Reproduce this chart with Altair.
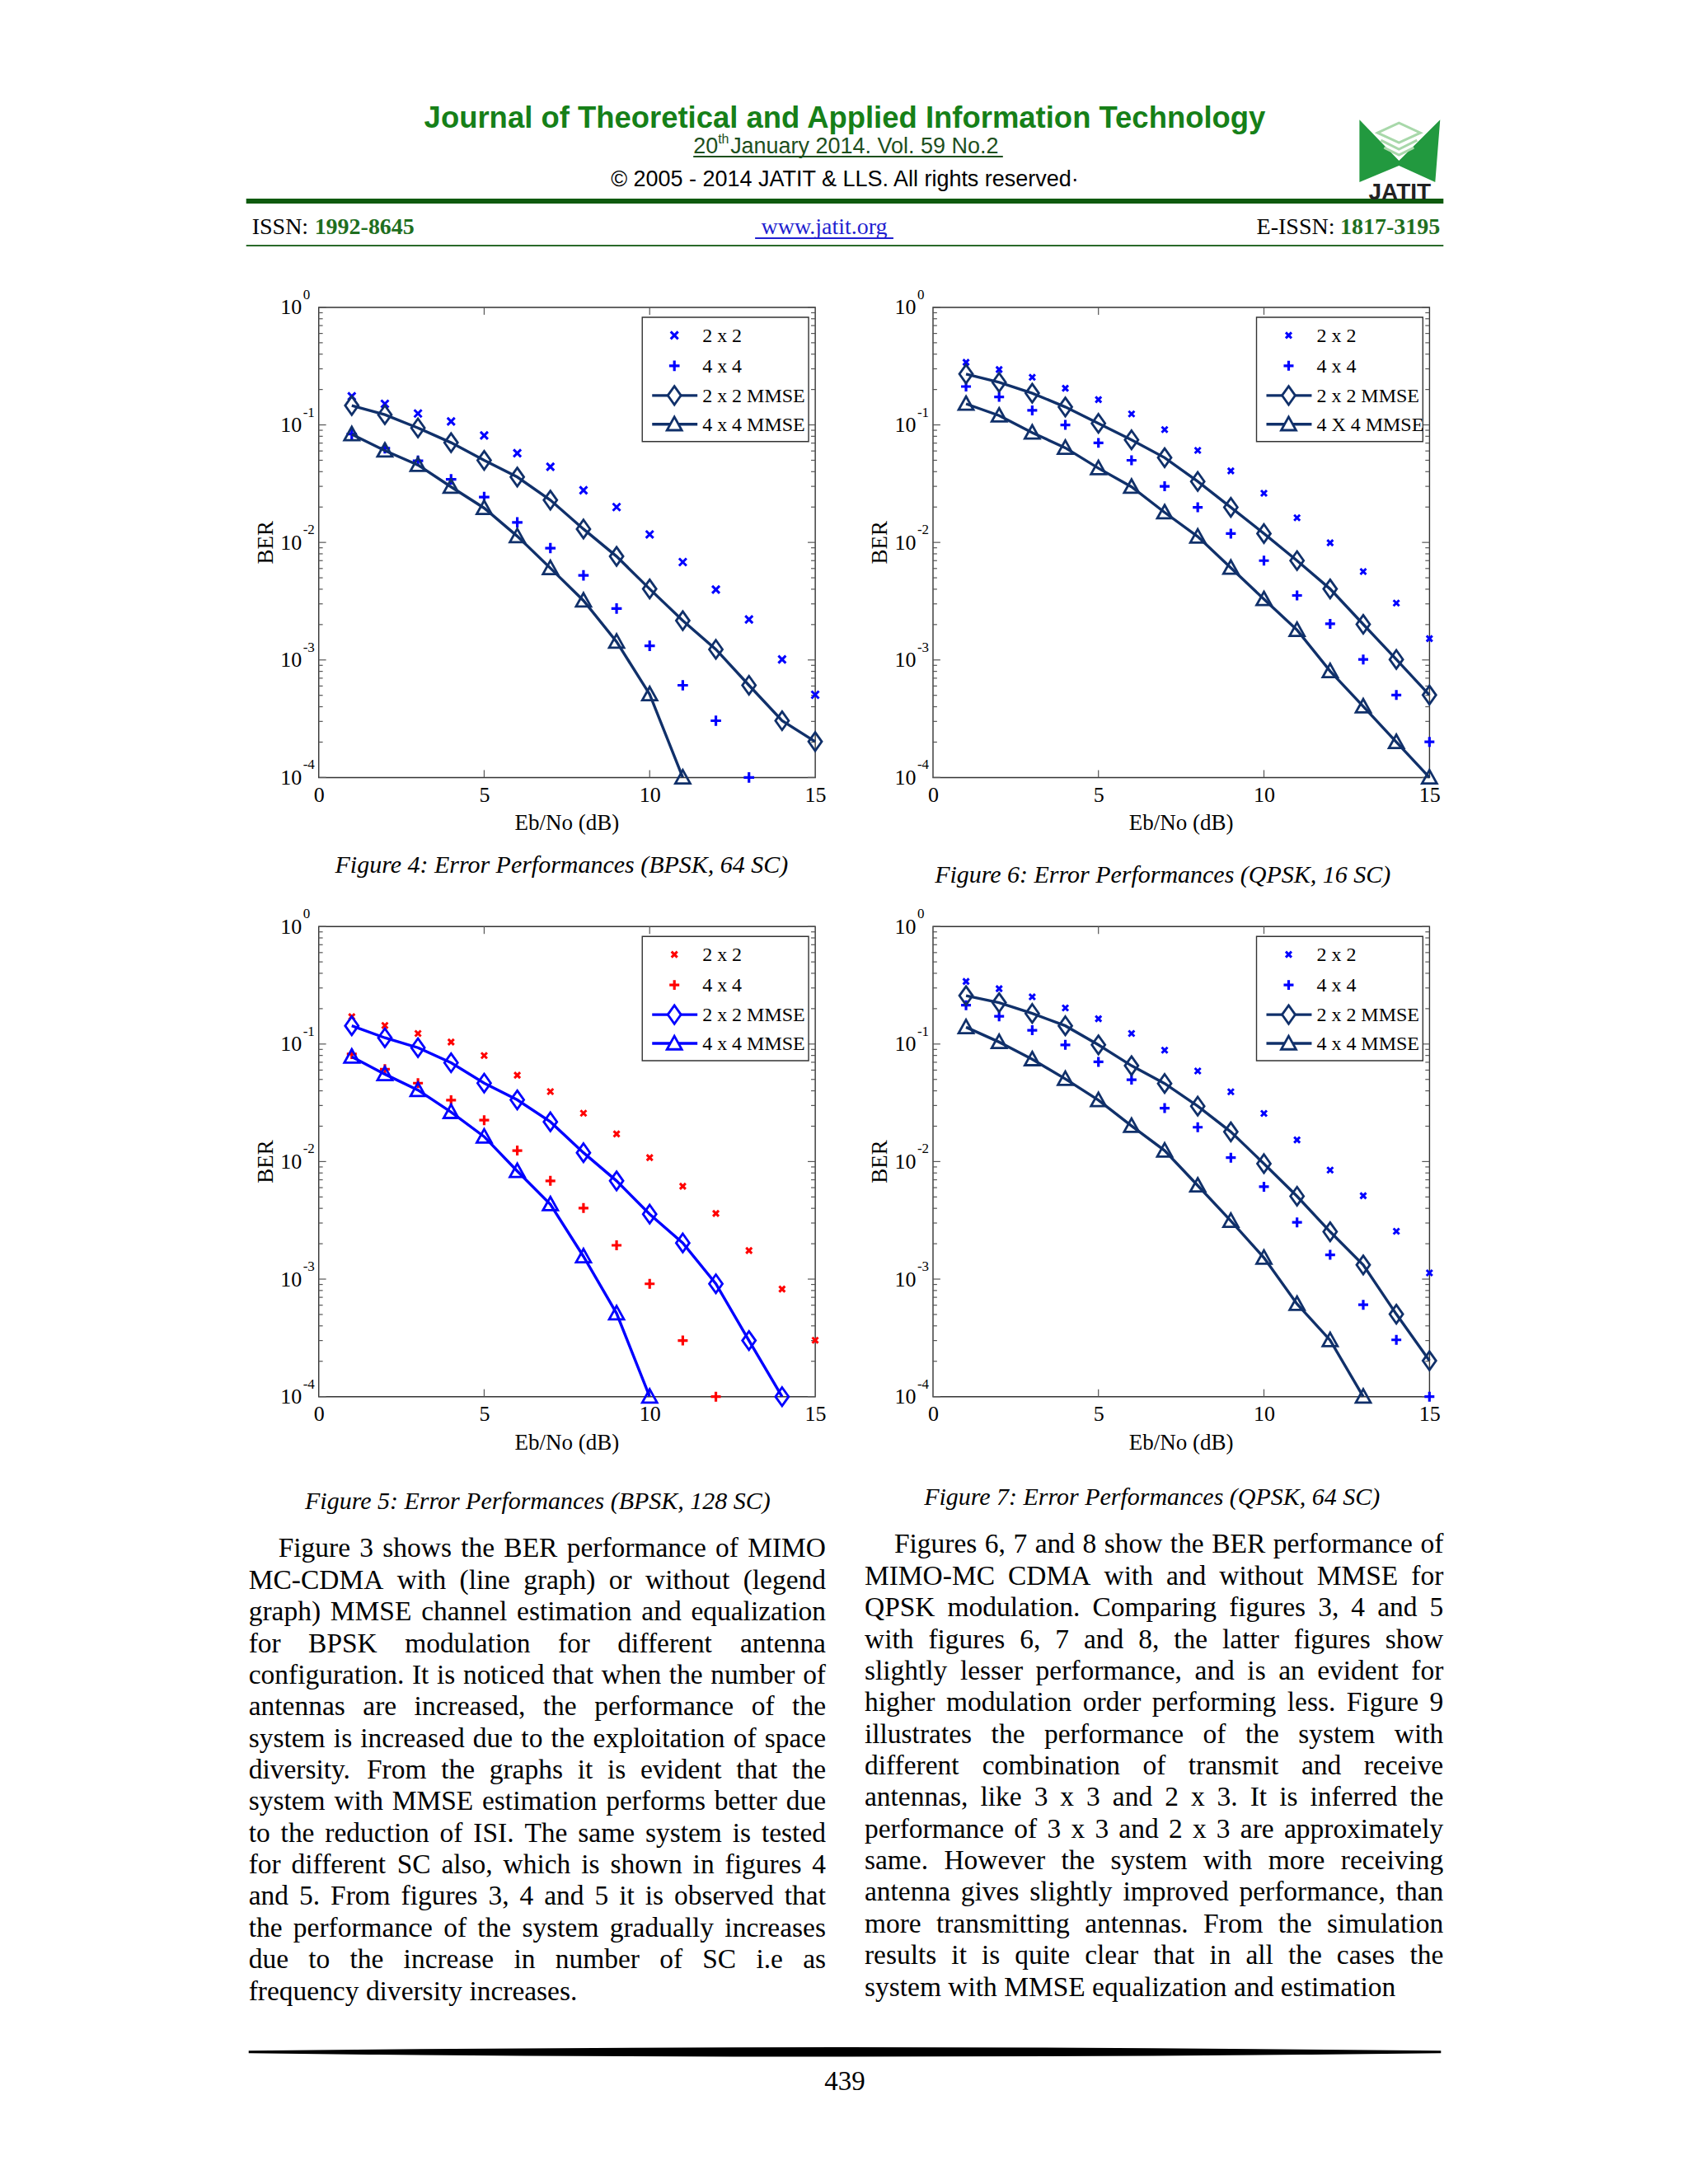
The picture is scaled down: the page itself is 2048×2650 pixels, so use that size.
import altair as alt
import pandas as pd

# ---------------------------------------------------------------- data
EBNO = list(range(1, 16))

# Figure 4 (BPSK, 64 SC)
f4_2x2 = [0.175, 0.151, 0.125, 0.107, 0.0813, 0.0574, 0.0440, 0.0278, 0.0200, 0.0117, 0.00681, 0.00397, 0.00221, 0.00101, 0.000506]
f4_4x4 = [0.0837, 0.0632, 0.0495, 0.0344, 0.0243, 0.0148, 0.00895, 0.00525, 0.00274, 0.00132, 0.000609, 0.000304, 0.0001]
f4_2x2m = [0.146, 0.122, 0.0942, 0.0706, 0.0499, 0.0360, 0.0229, 0.0130, 0.00761, 0.00402, 0.00216, 0.00123, 0.000609, 0.000304, 0.000202]
f4_4x4m = [0.0832, 0.0604, 0.0456, 0.0297, 0.0196, 0.0113, 0.00604, 0.00320, 0.00143, 0.000510, 0.0001]

# Figure 6 (QPSK, 16 SC)
f6_2x2 = [0.341, 0.296, 0.254, 0.205, 0.164, 0.124, 0.0912, 0.0607, 0.0406, 0.0262, 0.0162, 0.00993, 0.00565, 0.00305, 0.00152]
f6_4x4 = [0.212, 0.173, 0.133, 0.100, 0.0703, 0.0500, 0.0300, 0.0199, 0.0119, 0.0070, 0.00354, 0.00203, 0.00101, 0.000503, 0.000201]
f6_2x2m = [0.271, 0.230, 0.186, 0.142, 0.103, 0.0746, 0.0526, 0.0330, 0.0199, 0.0119, 0.0070, 0.00402, 0.00201, 0.00101, 0.000503]
f6_4x4m = [0.151, 0.120, 0.0859, 0.0638, 0.0428, 0.0297, 0.0180, 0.0112, 0.00608, 0.00329, 0.00180, 0.000803, 0.000402, 0.000200, 0.0001]

# Figure 5 (BPSK, 128 SC)
f5_2x2 = [0.171, 0.144, 0.123, 0.104, 0.0798, 0.0543, 0.0394, 0.0258, 0.0172, 0.0108, 0.00617, 0.00362, 0.00175, 0.000822, 0.000302]
f5_4x4 = [0.0822, 0.0611, 0.0465, 0.0333, 0.0225, 0.0124, 0.00685, 0.00402, 0.00194, 0.000912, 0.000300, 0.0001]
f5_2x2m = [0.143, 0.113, 0.0931, 0.0693, 0.0465, 0.0335, 0.0218, 0.0119, 0.00685, 0.00357, 0.00203, 0.000912, 0.000300, 0.0001]
f5_4x4m = [0.0780, 0.0554, 0.0406, 0.0264, 0.0163, 0.00830, 0.00433, 0.00156, 0.000511, 0.0001]

# Figure 7 (QPSK, 64 SC)
f7_2x2 = [0.341, 0.296, 0.252, 0.203, 0.164, 0.123, 0.0887, 0.0590, 0.0392, 0.0257, 0.0153, 0.00847, 0.00512, 0.00255, 0.00113]
f7_4x4 = [0.214, 0.172, 0.131, 0.0984, 0.0705, 0.0497, 0.0285, 0.0196, 0.0108, 0.00611, 0.00304, 0.00161, 0.000605, 0.000304, 0.0001]
f7_2x2m = [0.258, 0.225, 0.182, 0.143, 0.0984, 0.0654, 0.0462, 0.0296, 0.0179, 0.00960, 0.00507, 0.00253, 0.00132, 0.000503, 0.000202]
f7_4x4m = [0.139, 0.104, 0.0742, 0.0505, 0.0333, 0.0201, 0.0124, 0.00625, 0.00313, 0.00152, 0.000614, 0.000302, 0.0001]

LEG_A = ["2 x 2", "4 x 4", "2 x 2 MMSE", "4 x 4 MMSE"]
LEG_B = ["2 x 2", "4 x 4", "2 x 2 MMSE", "4 X 4 MMSE"]

X_TICKS = [0, 5, 10, 15]
X_INNER = [5, 10]
Y_MAJOR = [1e-4, 1e-3, 1e-2, 1e-1, 1.0]
Y_EXP = ["-4", "-3", "-2", "-1", "0"]
Y_MINOR = [m * d for d in [1e-4, 1e-3, 1e-2, 1e-1] for m in [2, 3, 4, 5, 6, 7, 8, 9]]

CAPTIONS = [
    "Figure 4: Error Performances (BPSK, 64 SC)",
    "Figure 6: Error Performances (QPSK, 16 SC)",
    "Figure 5: Error Performances (BPSK, 128 SC)",
    "Figure 7: Error Performances (QPSK, 64 SC)",
]

LEFT_LINES = [
    "Figure 3 shows the BER performance of MIMO",
    "MC-CDMA with (line graph) or without (legend",
    "graph) MMSE channel estimation and equalization",
    "for BPSK modulation for different antenna",
    "configuration. It is noticed that when the number of",
    "antennas are increased, the performance of the",
    "system is increased due to the exploitation of space",
    "diversity. From the graphs it is evident that the",
    "system with MMSE estimation performs better due",
    "to the reduction of ISI. The same system is tested",
    "for different SC also, which is shown in figures 4",
    "and 5. From figures 3, 4 and 5 it is observed that",
    "the performance of the system gradually increases",
    "due to the increase in number of SC i.e as",
    "frequency diversity increases.",
]
RIGHT_LINES = [
    "Figures 6, 7 and 8 show the BER performance of",
    "MIMO-MC CDMA with and without MMSE for",
    "QPSK modulation. Comparing figures 3, 4 and 5",
    "with figures 6, 7 and 8, the latter figures show",
    "slightly lesser performance, and is an evident for",
    "higher modulation order performing less.  Figure 9",
    "illustrates the performance of the system with",
    "different combination of transmit and receive",
    "antennas, like 3 x 3 and 2 x 3. It is inferred the",
    "performance of 3 x 3 and 2 x 3 are approximately",
    "same. However the system with more receiving",
    "antenna gives slightly improved performance, than",
    "more transmitting antennas. From the simulation",
    "results it is quite clear that in all the cases the",
    "system with MMSE equalization and estimation",
]

# ---------------------------------------------------------------- style
W, H = 603, 571
SERIF = "Liberation Serif"
SANS = "Liberation Sans"
NAVY = "#10306A"
BLUE = "#0000FF"
RED = "#FF0000"
GREEN_T = "#168018"
GREEN_D = "#0E5A0E"

SHAPE_X = "M-1,-1L1,1M-1,1L1,-1"
SHAPE_P = "M-1,0L1,0M0,-1L0,1"
SHAPE_D = "M0,-1.4L1,0L0,1.4L-1,0Z"
SHAPE_T = "M0,-1L1,0.8L-1,0.8Z"

X_SCALE = alt.Scale(domain=[0, 15], nice=False, zero=False)
Y_SCALE = alt.Scale(type="log", domain=[1e-4, 1], nice=False)
X_AXIS = alt.Axis(values=X_TICKS, format="d", ticks=False, tickSize=0, domain=False, grid=False,
                  labelPadding=8, labelFont=SERIF, labelFontSize=26, labelColor="black",
                  labelFlush=False, labelOverlap=False, title=None)
Y_AXIS = alt.Axis(values=Y_MAJOR, labelExpr="'10'", ticks=False, tickSize=0, domain=False, grid=False,
                  labelPadding=21, labelFont=SERIF, labelFontSize=26, labelColor="black",
                  labelFlush=False, labelOverlap=False, title=None)

ONE = pd.DataFrame({"a": [0]})


def X(field="x"):
    return alt.X(f"{field}:Q", scale=X_SCALE, axis=X_AXIS)


def Y(field="y"):
    return alt.Y(f"{field}:Q", scale=Y_SCALE, axis=Y_AXIS)


def series(v):
    return pd.DataFrame({"x": EBNO[:len(v)], "y": v})


def make_plot(data, pcol, lcol, labels, xsize, psize):
    s22, s44, m22, m44 = data
    L = []
    # inward ticks (MATLAB style box)
    ymaj = pd.DataFrame({"v": Y_MAJOR})
    ymin = pd.DataFrame({"v": Y_MINOR})
    xin = pd.DataFrame({"v": X_INNER})
    tick_kw = dict(color="#555555", strokeWidth=1.2)
    L.append(alt.Chart(ymaj).mark_rule(**tick_kw).encode(y=Y("v"), x=alt.value(0), x2=alt.value(9)))
    L.append(alt.Chart(ymaj).mark_rule(**tick_kw).encode(y=Y("v"), x=alt.value(W), x2=alt.value(W - 9)))
    L.append(alt.Chart(ymin).mark_rule(**tick_kw).encode(y=Y("v"), x=alt.value(0), x2=alt.value(5)))
    L.append(alt.Chart(ymin).mark_rule(**tick_kw).encode(y=Y("v"), x=alt.value(W), x2=alt.value(W - 5)))
    L.append(alt.Chart(xin).mark_rule(**tick_kw).encode(x=X("v"), y=alt.value(0), y2=alt.value(9)))
    L.append(alt.Chart(xin).mark_rule(**tick_kw).encode(x=X("v"), y=alt.value(H), y2=alt.value(H - 9)))
    # exponent of 10^k labels
    L.append(alt.Chart(pd.DataFrame({"v": Y_MAJOR, "t": Y_EXP})).mark_text(
        font=SERIF, fontSize=17, align="left", baseline="middle", dy=-15, color="black").encode(
        y=Y("v"), x=alt.value(-19), text="t:N"))
    # axis titles
    L.append(alt.Chart(ONE).mark_text(font=SERIF, fontSize=27, align="center", baseline="alphabetic",
                                      color="black").encode(
        x=alt.value(W / 2), y=alt.value(H + 64), text=alt.value("Eb/No (dB)")))
    L.append(alt.Chart(ONE).mark_text(font=SERIF, fontSize=27, align="center", baseline="middle",
                                      angle=270, color="black").encode(
        x=alt.value(-64), y=alt.value(H / 2), text=alt.value("BER")))
    # data
    L.append(alt.Chart(series(s22)).mark_point(shape=SHAPE_X, size=xsize, filled=False, strokeWidth=3,
                                               color=pcol, opacity=1).encode(x=X(), y=Y()))
    L.append(alt.Chart(series(s44)).mark_point(shape=SHAPE_P, size=psize, filled=False, strokeWidth=3.2,
                                               color=pcol, opacity=1).encode(x=X(), y=Y()))
    L.append(alt.Chart(series(m22)).mark_line(color=lcol, strokeWidth=3.4).encode(x=X(), y=Y()))
    L.append(alt.Chart(series(m22)).mark_point(shape=SHAPE_D, size=256, filled=False, strokeWidth=2.8,
                                               color=lcol, opacity=1).encode(x=X(), y=Y()))
    L.append(alt.Chart(series(m44)).mark_line(color=lcol, strokeWidth=3.4).encode(x=X(), y=Y()))
    L.append(alt.Chart(series(m44)).mark_point(shape=SHAPE_T, size=324, filled=False, strokeWidth=2.8,
                                               color=lcol, opacity=1).encode(x=X(), y=Y()))
    # legend box
    L.append(alt.Chart(ONE).mark_rect(fill="white", stroke="#333333", strokeWidth=1.4).encode(
        x=alt.value(393), x2=alt.value(595), y=alt.value(12), y2=alt.value(163)))
    rows = [34, 71, 107, 142]
    L.append(alt.Chart(ONE).mark_point(shape=SHAPE_X, size=xsize, filled=False, strokeWidth=3,
                                       color=pcol, opacity=1).encode(x=alt.value(432), y=alt.value(rows[0])))
    L.append(alt.Chart(ONE).mark_point(shape=SHAPE_P, size=psize, filled=False, strokeWidth=3.2,
                                       color=pcol, opacity=1).encode(x=alt.value(432), y=alt.value(rows[1])))
    for r, shp, sz in [(rows[2], SHAPE_D, 256), (rows[3], SHAPE_T, 324)]:
        L.append(alt.Chart(ONE).mark_rule(color=lcol, strokeWidth=3.4).encode(
            x=alt.value(405), x2=alt.value(460), y=alt.value(r)))
        L.append(alt.Chart(ONE).mark_point(shape=shp, size=sz, filled=False, strokeWidth=2.8, fill="white",
                                           color=lcol, opacity=1).encode(x=alt.value(432), y=alt.value(r)))
    for r, lab in zip(rows, labels):
        L.append(alt.Chart(ONE).mark_text(font=SERIF, fontSize=24, align="left", baseline="middle",
                                          color="black").encode(
            x=alt.value(466), y=alt.value(r + 1), text=alt.value(lab)))
    return alt.layer(*L)


# ---------------------------------------------------------------- page text (layout)
OX, OY = 386, 371  # page position of the first panel's plot area

TW = {' ': 250, '!': 333, '(': 333, ')': 333, ',': 250, '-': 333, '.': 250, '/': 278, ':': 278, ';': 278,
      'A': 722, 'B': 667, 'C': 667, 'D': 722, 'E': 611, 'F': 556, 'G': 722, 'H': 722, 'I': 333, 'J': 389,
      'K': 722, 'L': 611, 'M': 889, 'N': 722, 'O': 722, 'P': 556, 'Q': 722, 'R': 667, 'S': 556, 'T': 611,
      'U': 722, 'V': 722, 'W': 944, 'X': 722, 'Y': 722, 'Z': 611, 'a': 444, 'b': 500, 'c': 444, 'd': 500,
      'e': 444, 'f': 333, 'g': 500, 'h': 500, 'i': 278, 'j': 278, 'k': 500, 'l': 278, 'm': 778, 'n': 500,
      'o': 500, 'p': 500, 'q': 500, 'r': 333, 's': 389, 't': 278, 'u': 500, 'v': 500, 'w': 722, 'x': 500,
      'y': 500, 'z': 444}


def tw(s, size):
    return sum(TW.get(c, 500) for c in s) * size / 1000.0


def P(x, y, t=""):
    return {"x": x - OX, "y": y - OY, "t": t}


def body_rows(lines, x0, x1, y0, lh, indent, size):
    rows = []
    for i, line in enumerate(lines):
        words = line.split()
        start = x0 + (indent if i == 0 else 0)
        widths = [tw(w, size) for w in words]
        if i < len(lines) - 1 and len(words) > 1:
            gap = (x1 - start - sum(widths)) / (len(words) - 1)
        else:
            gap = TW[' '] * size / 1000.0
        x = start
        for w, wd in zip(words, widths):
            rows.append(P(x, y0 + i * lh, w))
            x += wd + gap
    return rows


def IX():
    return alt.X("x:Q", scale=None, axis=None)


def IY():
    return alt.Y("y:Q", scale=None, axis=None)


def text_layer(rows, **kw):
    return alt.Chart(pd.DataFrame(rows)).mark_text(baseline="alphabetic", **kw).encode(
        x=IX(), y=IY(), text="t:N")


def rect_layer(rows, **kw):
    return alt.Chart(pd.DataFrame(rows)).mark_rect(**kw).encode(
        x=IX(), x2="x2:Q", y=IY(), y2="y2:Q", color=alt.Color("c:N", scale=None))


def R(x1, y1, x2, y2, c):
    return {"x": x1 - OX, "x2": x2 - OX, "y": y1 - OY, "y2": y2 - OY, "c": c}


def sym_layer(x, y, path, fill=None, stroke=None, sw=0):
    if fill:
        m = alt.Chart(ONE).mark_point(shape=path, size=4, filled=True, color=fill, strokeWidth=0, opacity=1)
    else:
        m = alt.Chart(ONE).mark_point(shape=path, size=4, filled=False, color=stroke, strokeWidth=sw, opacity=1)
    return m.encode(x=alt.value(x - OX), y=alt.value(y - OY))


page = []
# invisible page-sized frame (fixes the page origin)
page.append(alt.Chart(pd.DataFrame([R(8, 8, 2040, 2642, "white")])).mark_rect(opacity=0).encode(
    x=IX(), x2="x2:Q", y=IY(), y2="y2:Q"))
# rules / bars
page.append(rect_layer([
    R(298, 239, 1752, 245, GREEN_D),
    R(298, 295, 1752, 297, "#2A6A2A"),
    R(841, 187, 1217, 189, "#1D4F1D"),
    R(916, 286, 1084, 288, "#1F1FD0"),
]))
# header
page.append(text_layer([P(1025, 153, "Journal of Theoretical and Applied Information Technology")],
                       font=SANS, fontSize=36.5, fontWeight="bold", color=GREEN_T, align="center"))
page.append(text_layer([P(841, 184, "20"), P(886, 184, "January 2014. Vol. 59 No.2")],
                       font=SANS, fontSize=27, color="#1D4F1D", align="left"))
page.append(text_layer([P(871, 172, "th")], font=SANS, fontSize=16, color="#1D4F1D", align="left"))
page.append(text_layer([P(1025, 224, "\u00a9 2005 - 2014 JATIT & LLS. All rights reserved\u00b7")],
                       font=SANS, fontSize=27, color="black", align="center"))
page.append(text_layer([P(305, 282, "ISSN:")], font=SERIF, fontSize=28, color="black", align="left"))
page.append(text_layer([P(381, 282, "1992-8645")], font=SERIF, fontSize=28, fontWeight="bold",
                       color="#1F6F1F", align="left"))
page.append(text_layer([P(1000, 282, "www.jatit.org")], font=SERIF, fontSize=28, color="#1F1FD0",
                       align="center"))
page.append(text_layer([P(1620, 282, "E-ISSN:")], font=SERIF, fontSize=28, color="black", align="right"))
page.append(text_layer([P(1748, 282, "1817-3195")], font=SERIF, fontSize=28, fontWeight="bold",
                       color="#1F6F1F", align="right"))
# logo
page.append(sym_layer(1700, 183, "M-50,-40L-2,10L48,-40L42,36L-2,16L-50,36Z", fill="#22993F"))
page.append(sym_layer(1700, 183, "M-28,-24L-2,-36L24,-24L-2,-12Z", stroke="#A8D8AA", sw=3))
page.append(sym_layer(1700, 183, "M-24,-15L-2,-4L20,-15", stroke="#A8D8AA", sw=3))
page.append(sym_layer(1700, 183, "M-20,-6L-2,3L16,-6", stroke="#A8D8AA", sw=3))
page.append(text_layer([P(1699, 240, "JATIT")], font=SANS, fontSize=28, fontWeight="bold",
                       color="#222222", align="center"))
# captions
page.append(text_layer([P(681, 1058, CAPTIONS[0]), P(1411, 1070, CAPTIONS[1]),
                        P(652, 1830, CAPTIONS[2]), P(1398, 1825, CAPTIONS[3])],
                       font=SERIF, fontSize=30, fontStyle="italic", color="black", align="center"))
# body text (justified)
BODY = 33.5
page.append(text_layer(body_rows(LEFT_LINES, 301, 1002, 1889, 38.4, 36, BODY) +
                       body_rows(RIGHT_LINES, 1049, 1752, 1884, 38.4, 36, BODY),
                       font=SERIF, fontSize=BODY, color="black", align="left"))
# footer
page.append(sym_layer(1025, 2490, "M-724,-1.5Q0,-10 724,-1.5L724,1.5Q0,10 -724,1.5Z", fill="black"))
page.append(text_layer([P(1025, 2536, "439")], font=SERIF, fontSize=33, color="black", align="center"))

page_layer = alt.layer(*page)

# ---------------------------------------------------------------- panels
p4 = make_plot((f4_2x2, f4_4x4, f4_2x2m, f4_4x4m), BLUE, NAVY, LEG_A, 81, 160)
p6 = make_plot((f6_2x2, f6_4x4, f6_2x2m, f6_4x4m), BLUE, NAVY, LEG_B, 49, 144)
p5 = make_plot((f5_2x2, f5_4x4, f5_2x2m, f5_4x4m), RED, BLUE, LEG_A, 49, 144)
p7 = make_plot((f7_2x2, f7_4x4, f7_2x2m, f7_4x4m), BLUE, NAVY, LEG_A, 49, 144)

panel1 = alt.layer(p4, page_layer).resolve_scale(x="independent", y="independent").properties(width=W, height=H)
panel2 = p6.properties(width=W, height=H)
panel3 = p5.properties(width=W, height=H)
panel4 = p7.properties(width=W, height=H)

chart = alt.concat(panel1, panel2, panel3, panel4, columns=2,
                   spacing={"row": 181, "column": 143}, bounds="flush").properties(
    padding=0).configure_view(stroke="#333333", strokeWidth=1.4)

chart.save("out.html", embed_options={"renderer": "svg", "actions": False})
